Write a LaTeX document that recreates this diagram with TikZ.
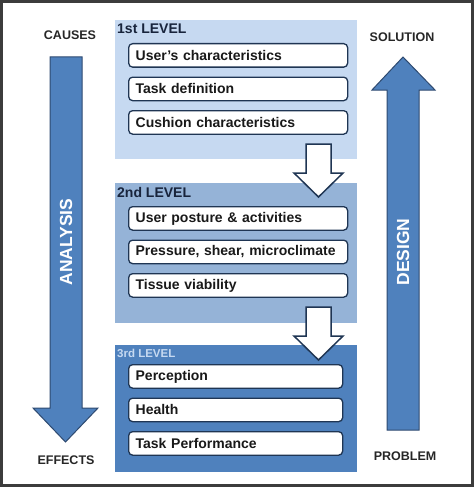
\documentclass[tikz,border=0pt]{standalone}
\usepackage{fontspec}
\setmainfont{Liberation Sans}
\usetikzlibrary{positioning}
\definecolor{LevelOne}{RGB}{198, 217, 241}
\definecolor{LevelTwo}{RGB}{149, 179, 215}
\definecolor{LevelThree}{RGB}{79, 129, 189}
\definecolor{FlowBlue}{RGB}{79, 129, 189}
\definecolor{FlowEdge}{RGB}{46, 74, 112}
\definecolor{ItemEdge}{RGB}{31, 53, 83}
\definecolor{LabelDark}{RGB}{24, 36, 60}
\definecolor{FrameGray}{RGB}{60, 60, 60}

\begin{document}
\begin{tikzpicture}[
        x=1pt, y=-1pt,
        node distance=8.7pt,
        panel/.style={rectangle, anchor=north west, minimum width=242pt, inner sep=0pt},
        item/.style={rectangle, rounded corners=4pt, draw=ItemEdge, fill=white, line width=1.3pt, text width=205pt, minimum height=23.5pt, inner xsep=7pt, inner ysep=0pt, align=left, text=black!90, font=\bfseries\fontsize{14}{16}\selectfont},
        lbl/.style={inner sep=0pt, text=LabelDark, font=\bfseries\fontsize{14}{16}\selectfont},
        side/.style={inner sep=0pt, text=black!85, font=\bfseries\fontsize{12.5}{14}\selectfont},
        flow/.style={fill=FlowBlue, draw=FlowEdge, line width=1pt, line join=miter},
        stepdown/.style={fill=white, draw=ItemEdge, line width=1.5pt, line join=miter},
        flowtext/.style={inner sep=0pt, text=white, rotate=90, font=\bfseries\fontsize{17.5}{20}\selectfont}
    ]
        \useasboundingbox (0,0) rectangle (474,487);
        \draw[FrameGray, line width=3pt] (1.5,1.5) rectangle (472.5,485.5);

        % levels
        \node[panel, fill=LevelOne, minimum height=139pt] (p1) at (115,20) {};
        \node[panel, fill=LevelTwo, minimum height=140pt] (p2) at (115,183) {};
        \node[panel, fill=LevelThree, minimum height=127pt] (p3) at (115,345) {};

        \node[lbl, below right=4pt and 2pt of p1.north west] (l1) {1st LEVEL};
        \node[lbl, below right=4pt and 2pt of p2.north west] (l2) {2nd LEVEL};
        \node[lbl, below right=4pt and 2pt of p3.north west, text=LevelOne, font=\bfseries\fontsize{11.5}{13}\selectfont] (l3) {3rd LEVEL};

        \node[item, anchor=north west] (u1) at (128,43) {User's characteristics};
        \node[item, below=of u1] (u2) {Task definition};
        \node[item, below=of u2] (u3) {Cushion characteristics};

        \node[item, anchor=north west] (m1) at (128,206) {User posture \& activities};
        \node[item, below=of m1] (m2) {Pressure, shear, microclimate};
        \node[item, below=of m2] (m3) {Tissue viability};

        \node[item, text width=200pt, anchor=north west] (e1) at (128,364) {Perception};
        \node[item, text width=200pt, below=of e1] (e2) {Health};
        \node[item, text width=200pt, below=of e2] (e3) {Task Performance};

        % white arrows between levels
        \draw[stepdown] (306,144) -- (331,144) -- (331,173) -- (343,173) -- (318.5,197) -- (294,173) -- (306,173) -- cycle;
        \draw[stepdown] (306,307) -- (331,307) -- (331,336) -- (343,336) -- (318.5,360) -- (294,336) -- (306,336) -- cycle;

        % analysis and design
        \draw[flow] (50,57) -- (82,57) -- (82,408) -- (98,408) -- (65.5,442) -- (33,408) -- (50,408) -- cycle;
        \draw[flow] (403,57) -- (435,90) -- (419,90) -- (419,430) -- (387,430) -- (387,90) -- (372,90) -- cycle;

        \node[flowtext] (an) at (66,242) {ANALYSIS};
        \node[flowtext] (de) at (403,252) {DESIGN};

        \node[side] (ca) at (70,35) {CAUSES};
        \node[side] (ef) at (66,460) {EFFECTS};
        \node[side] (so) at (402,37) {SOLUTION};
        \node[side] (pr) at (405,456) {PROBLEM};

    \end{tikzpicture}
\end{document}
